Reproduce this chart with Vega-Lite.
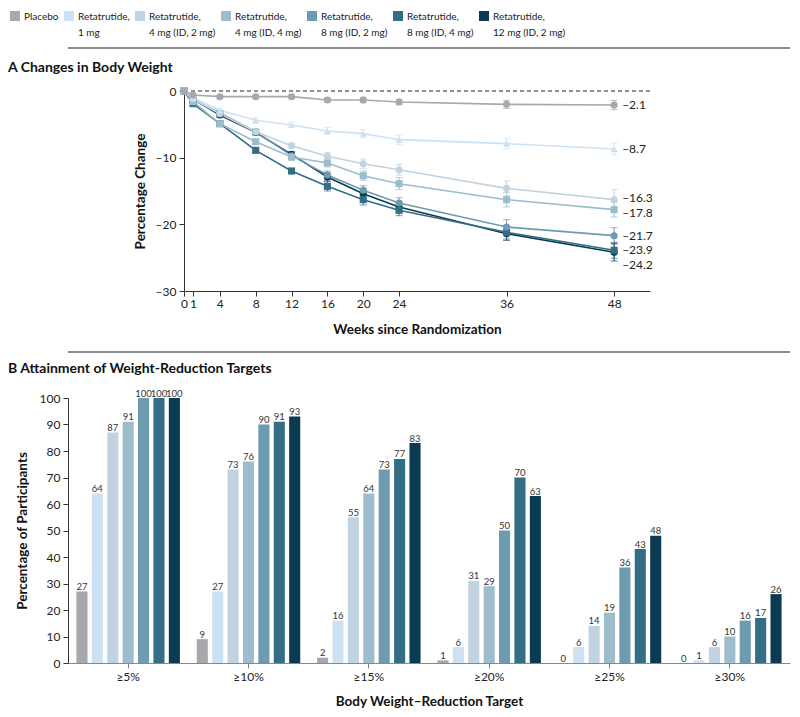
{
  "$schema": "https://vega.github.io/schema/vega-lite/v6.json",
  "padding": {"left": 8, "top": 11, "right": 4, "bottom": 2},
  "config": {
    "font": "Lato",
    "view": {"stroke": null},
    "axis": {"labelFontSize": 12, "labelColor": "#222", "titleFontSize": 13.5, "titleFontWeight": "bold", "titleColor": "#111", "domainColor": "#333", "tickColor": "#333", "grid": false},
    "title": {"fontSize": 14, "fontWeight": "bold", "color": "#111", "anchor": "start"}
  },
  "resolve": {"legend": {"color": "independent", "shape": "independent"}},
  "spacing": 12,
  "vconcat": [
    {
      "width": 722, "height": 2,
      "view": {"fill": "#8c8c8c", "stroke": null},
      "data": {"values": [{"g": "Placebo"}, {"g": "Retatrutide, 1 mg"}, {"g": "Retatrutide, 4 mg (ID, 2 mg)"}, {"g": "Retatrutide, 4 mg (ID, 4 mg)"}, {"g": "Retatrutide, 8 mg (ID, 2 mg)"}, {"g": "Retatrutide, 8 mg (ID, 4 mg)"}, {"g": "Retatrutide, 12 mg (ID, 2 mg)"}]},
      "mark": {"type": "point", "filled": true, "size": 0, "opacity": 1},
      "encoding": {
        "color": {"field": "g", "type": "nominal",
                  "scale": {"domain": ["Placebo", "Retatrutide, 1 mg", "Retatrutide, 4 mg (ID, 2 mg)", "Retatrutide, 4 mg (ID, 4 mg)", "Retatrutide, 8 mg (ID, 2 mg)", "Retatrutide, 8 mg (ID, 4 mg)", "Retatrutide, 12 mg (ID, 2 mg)"],
                            "range": ["#a6a8ab", "#cde1f3", "#c1d3e1", "#9dbccc", "#6e9bb0", "#336d86", "#0b3a53"]},
                  "legend": {"orient": "none", "legendX": -58, "legendY": -36, "direction": "horizontal", "columns": 7, "title": null,
                             "symbolType": "square", "symbolSize": 100, "symbolStrokeWidth": 0, "symbolOpacity": 1, "labelFontSize": 10, "labelColor": "#222",
                             "labelBaseline": "top", "labelOffset": 4, "columnPadding": 5, "padding": 0,
                             "labelExpr": "datum.label == 'Placebo' ? ['Placebo', ''] : ['Retatrutide,', slice(datum.label, 13)]",
                             "encode": {"labels": {"update": {"lineHeight": {"value": 16}, "dy": {"value": -4}}}}}}
      }
    },
    {
      "title": {"text": "A  Changes in Body Weight", "anchor": "start", "frame": "group", "dx": -60, "offset": 10},
      "spacing": 0,
      "hconcat": [
        {"width": 65, "height": 248, "data": {"values": []}, "mark": "point", "encoding": {}},
        {
          "width": 466, "height": 200,
          "layer": [
            {
              "data": {"values": [{}]},
              "mark": {"type": "rule", "strokeDash": [4, 3], "color": "#222", "strokeWidth": 1},
              "encoding": {"y": {"datum": 0, "type": "quantitative", "scale": {"domain": [-30, 0], "nice": false}, "title": "Percentage Change"}}
            },
            {
              "data": {"values": [
                {"g": "Retatrutide, 12 mg (ID, 2 mg)", "w": 0, "v": 0, "lo": 0, "hi": 0},
                {"g": "Retatrutide, 12 mg (ID, 2 mg)", "w": 1, "v": -1.2, "lo": -1.3, "hi": -1.1},
                {"g": "Retatrutide, 12 mg (ID, 2 mg)", "w": 4, "v": -3.6, "lo": -3.9, "hi": -3.3},
                {"g": "Retatrutide, 12 mg (ID, 2 mg)", "w": 8, "v": -6.2, "lo": -6.6, "hi": -5.8},
                {"g": "Retatrutide, 12 mg (ID, 2 mg)", "w": 12, "v": -9.5, "lo": -9.9, "hi": -9.1},
                {"g": "Retatrutide, 12 mg (ID, 2 mg)", "w": 16, "v": -12.9, "lo": -13.5, "hi": -12.3},
                {"g": "Retatrutide, 12 mg (ID, 2 mg)", "w": 20, "v": -15.4, "lo": -16.1, "hi": -14.7},
                {"g": "Retatrutide, 12 mg (ID, 2 mg)", "w": 24, "v": -17.4, "lo": -18.2, "hi": -16.6},
                {"g": "Retatrutide, 12 mg (ID, 2 mg)", "w": 36, "v": -21.4, "lo": -22.4, "hi": -20.4},
                {"g": "Retatrutide, 12 mg (ID, 2 mg)", "w": 48, "v": -24.2, "lo": -25.5, "hi": -22.9},
                {"g": "Retatrutide, 8 mg (ID, 4 mg)", "w": 0, "v": 0, "lo": 0, "hi": 0},
                {"g": "Retatrutide, 8 mg (ID, 4 mg)", "w": 1, "v": -1.9, "lo": -2.0, "hi": -1.8},
                {"g": "Retatrutide, 8 mg (ID, 4 mg)", "w": 4, "v": -4.9, "lo": -5.2, "hi": -4.6},
                {"g": "Retatrutide, 8 mg (ID, 4 mg)", "w": 8, "v": -8.9, "lo": -9.3, "hi": -8.5},
                {"g": "Retatrutide, 8 mg (ID, 4 mg)", "w": 12, "v": -12.0, "lo": -12.4, "hi": -11.6},
                {"g": "Retatrutide, 8 mg (ID, 4 mg)", "w": 16, "v": -14.3, "lo": -15.0, "hi": -13.6},
                {"g": "Retatrutide, 8 mg (ID, 4 mg)", "w": 20, "v": -16.3, "lo": -17.1, "hi": -15.5},
                {"g": "Retatrutide, 8 mg (ID, 4 mg)", "w": 24, "v": -17.9, "lo": -18.7, "hi": -17.1},
                {"g": "Retatrutide, 8 mg (ID, 4 mg)", "w": 36, "v": -21.2, "lo": -22.2, "hi": -20.2},
                {"g": "Retatrutide, 8 mg (ID, 4 mg)", "w": 48, "v": -23.9, "lo": -25.1, "hi": -22.7},
                {"g": "Retatrutide, 8 mg (ID, 2 mg)", "w": 0, "v": 0, "lo": 0, "hi": 0},
                {"g": "Retatrutide, 8 mg (ID, 2 mg)", "w": 1, "v": -1.3, "lo": -1.4, "hi": -1.2},
                {"g": "Retatrutide, 8 mg (ID, 2 mg)", "w": 4, "v": -3.3, "lo": -3.6, "hi": -3.0},
                {"g": "Retatrutide, 8 mg (ID, 2 mg)", "w": 8, "v": -6.1, "lo": -6.5, "hi": -5.7},
                {"g": "Retatrutide, 8 mg (ID, 2 mg)", "w": 12, "v": -9.7, "lo": -10.1, "hi": -9.3},
                {"g": "Retatrutide, 8 mg (ID, 2 mg)", "w": 16, "v": -12.6, "lo": -13.2, "hi": -12.0},
                {"g": "Retatrutide, 8 mg (ID, 2 mg)", "w": 20, "v": -14.9, "lo": -15.6, "hi": -14.2},
                {"g": "Retatrutide, 8 mg (ID, 2 mg)", "w": 24, "v": -16.8, "lo": -17.6, "hi": -16.0},
                {"g": "Retatrutide, 8 mg (ID, 2 mg)", "w": 36, "v": -20.4, "lo": -21.5, "hi": -19.3},
                {"g": "Retatrutide, 8 mg (ID, 2 mg)", "w": 48, "v": -21.7, "lo": -22.9, "hi": -20.5},
                {"g": "Retatrutide, 4 mg (ID, 4 mg)", "w": 0, "v": 0, "lo": 0, "hi": 0},
                {"g": "Retatrutide, 4 mg (ID, 4 mg)", "w": 1, "v": -1.6, "lo": -1.7, "hi": -1.5},
                {"g": "Retatrutide, 4 mg (ID, 4 mg)", "w": 4, "v": -4.9, "lo": -5.2, "hi": -4.6},
                {"g": "Retatrutide, 4 mg (ID, 4 mg)", "w": 8, "v": -7.6, "lo": -8.0, "hi": -7.2},
                {"g": "Retatrutide, 4 mg (ID, 4 mg)", "w": 12, "v": -9.9, "lo": -10.4, "hi": -9.4},
                {"g": "Retatrutide, 4 mg (ID, 4 mg)", "w": 16, "v": -10.8, "lo": -11.4, "hi": -10.2},
                {"g": "Retatrutide, 4 mg (ID, 4 mg)", "w": 20, "v": -12.7, "lo": -13.4, "hi": -12.0},
                {"g": "Retatrutide, 4 mg (ID, 4 mg)", "w": 24, "v": -13.9, "lo": -14.8, "hi": -13.0},
                {"g": "Retatrutide, 4 mg (ID, 4 mg)", "w": 36, "v": -16.3, "lo": -17.4, "hi": -15.2},
                {"g": "Retatrutide, 4 mg (ID, 4 mg)", "w": 48, "v": -17.8, "lo": -18.9, "hi": -16.7},
                {"g": "Retatrutide, 4 mg (ID, 2 mg)", "w": 0, "v": 0, "lo": 0, "hi": 0},
                {"g": "Retatrutide, 4 mg (ID, 2 mg)", "w": 1, "v": -1.2, "lo": -1.3, "hi": -1.1},
                {"g": "Retatrutide, 4 mg (ID, 2 mg)", "w": 4, "v": -3.4, "lo": -3.7, "hi": -3.1},
                {"g": "Retatrutide, 4 mg (ID, 2 mg)", "w": 8, "v": -6.1, "lo": -6.5, "hi": -5.7},
                {"g": "Retatrutide, 4 mg (ID, 2 mg)", "w": 12, "v": -8.2, "lo": -8.6, "hi": -7.8},
                {"g": "Retatrutide, 4 mg (ID, 2 mg)", "w": 16, "v": -9.8, "lo": -10.4, "hi": -9.2},
                {"g": "Retatrutide, 4 mg (ID, 2 mg)", "w": 20, "v": -10.9, "lo": -11.6, "hi": -10.2},
                {"g": "Retatrutide, 4 mg (ID, 2 mg)", "w": 24, "v": -11.8, "lo": -12.6, "hi": -11.0},
                {"g": "Retatrutide, 4 mg (ID, 2 mg)", "w": 36, "v": -14.6, "lo": -15.7, "hi": -13.5},
                {"g": "Retatrutide, 4 mg (ID, 2 mg)", "w": 48, "v": -16.3, "lo": -17.8, "hi": -14.8},
                {"g": "Retatrutide, 1 mg", "w": 0, "v": 0, "lo": 0, "hi": 0},
                {"g": "Retatrutide, 1 mg", "w": 1, "v": -1.0, "lo": -1.1, "hi": -0.9},
                {"g": "Retatrutide, 1 mg", "w": 4, "v": -2.9, "lo": -3.2, "hi": -2.6},
                {"g": "Retatrutide, 1 mg", "w": 8, "v": -4.4, "lo": -4.8, "hi": -4.0},
                {"g": "Retatrutide, 1 mg", "w": 12, "v": -5.1, "lo": -5.5, "hi": -4.7},
                {"g": "Retatrutide, 1 mg", "w": 16, "v": -6.0, "lo": -6.5, "hi": -5.5},
                {"g": "Retatrutide, 1 mg", "w": 20, "v": -6.4, "lo": -7.0, "hi": -5.8},
                {"g": "Retatrutide, 1 mg", "w": 24, "v": -7.3, "lo": -8.0, "hi": -6.6},
                {"g": "Retatrutide, 1 mg", "w": 36, "v": -7.9, "lo": -8.7, "hi": -7.1},
                {"g": "Retatrutide, 1 mg", "w": 48, "v": -8.7, "lo": -9.6, "hi": -7.8},
                {"g": "Placebo", "w": 0, "v": 0, "lo": 0, "hi": 0},
                {"g": "Placebo", "w": 1, "v": -0.6, "lo": -0.7, "hi": -0.5},
                {"g": "Placebo", "w": 4, "v": -0.85, "lo": -1.05, "hi": -0.65},
                {"g": "Placebo", "w": 8, "v": -0.85, "lo": -1.1, "hi": -0.6},
                {"g": "Placebo", "w": 12, "v": -0.85, "lo": -1.15, "hi": -0.55},
                {"g": "Placebo", "w": 16, "v": -1.35, "lo": -1.7, "hi": -1.0},
                {"g": "Placebo", "w": 20, "v": -1.35, "lo": -1.75, "hi": -0.95},
                {"g": "Placebo", "w": 24, "v": -1.65, "lo": -2.05, "hi": -1.25},
                {"g": "Placebo", "w": 36, "v": -2.0, "lo": -2.6, "hi": -1.4},
                {"g": "Placebo", "w": 48, "v": -2.1, "lo": -2.8, "hi": -1.4}
              ]},
              "encoding": {
                "x": {"field": "w", "type": "quantitative", "scale": {"domain": [0, 52], "nice": false}, "title": "Weeks since Randomization",
                      "axis": {"values": [0, 1, 4, 8, 12, 16, 20, 24, 36, 48], "labelAngle": 0, "tickSize": 5, "labelPadding": 2, "titlePadding": 13, "labelFlush": false, "labelOverlap": false}},
                "color": {"field": "g", "type": "nominal", "legend": null,
                          "scale": {"domain": ["Placebo", "Retatrutide, 1 mg", "Retatrutide, 4 mg (ID, 2 mg)", "Retatrutide, 4 mg (ID, 4 mg)", "Retatrutide, 8 mg (ID, 2 mg)", "Retatrutide, 8 mg (ID, 4 mg)", "Retatrutide, 12 mg (ID, 2 mg)"],
                                    "range": ["#a6a8ab", "#cde1f3", "#c1d3e1", "#9dbccc", "#6e9bb0", "#336d86", "#0b3a53"]}}
              },
              "layer": [
                {
                  "mark": {"type": "line", "strokeWidth": 1.6},
                  "encoding": {"y": {"field": "v", "type": "quantitative", "scale": {"domain": [-30, 0], "nice": false}, "title": "Percentage Change",
                                     "axis": {"values": [-30, -25, -20, -15, -10, -5, 0], "labelExpr": "datum.value < 0 ? '–' + abs(datum.value) : '0'", "tickSize": 5, "titlePadding": 8, "labelPadding": 3}}}
                },
                {
                  "mark": {"type": "rule", "strokeWidth": 1},
                  "encoding": {"y": {"field": "lo", "type": "quantitative", "title": "Percentage Change"}, "y2": {"field": "hi"}}
                },
                {
                  "mark": {"type": "tick", "orient": "horizontal", "size": 7, "thickness": 1},
                  "encoding": {"y": {"field": "lo", "type": "quantitative", "title": "Percentage Change"}}
                },
                {
                  "mark": {"type": "tick", "orient": "horizontal", "size": 7, "thickness": 1},
                  "encoding": {"y": {"field": "hi", "type": "quantitative", "title": "Percentage Change"}}
                },
                {
                  "mark": {"type": "point", "filled": true, "opacity": 1, "size": 50},
                  "encoding": {
                    "y": {"field": "v", "type": "quantitative", "title": "Percentage Change"},
                    "shape": {"field": "g", "type": "nominal", "legend": null,
                              "scale": {"domain": ["Placebo", "Retatrutide, 1 mg", "Retatrutide, 4 mg (ID, 2 mg)", "Retatrutide, 4 mg (ID, 4 mg)", "Retatrutide, 8 mg (ID, 2 mg)", "Retatrutide, 8 mg (ID, 4 mg)", "Retatrutide, 12 mg (ID, 2 mg)"],
                                        "range": ["circle", "triangle-up", "circle", "square", "circle", "square", "circle"]}}
                  }
                },
                {
                  "transform": [{"filter": "datum.w == 48 && (datum.g == 'Placebo' || datum.g == 'Retatrutide, 1 mg' || datum.g == 'Retatrutide, 8 mg (ID, 2 mg)' || datum.g == 'Retatrutide, 8 mg (ID, 4 mg)')"}, {"calculate": "'–' + format(abs(datum.v), '.1f')", "as": "lab"}],
                  "mark": {"type": "text", "align": "left", "dx": 8, "fontSize": 12, "color": "#222"},
                  "encoding": {"y": {"field": "v", "type": "quantitative", "title": "Percentage Change"}, "text": {"field": "lab"}, "color": {"value": "#222"}}
                },
                {
                  "transform": [{"filter": "datum.w == 48 && datum.g == 'Retatrutide, 4 mg (ID, 2 mg)'"}, {"calculate": "'–' + format(abs(datum.v), '.1f')", "as": "lab"}],
                  "mark": {"type": "text", "align": "left", "dx": 8, "dy": -2, "fontSize": 12, "color": "#222"},
                  "encoding": {"y": {"field": "v", "type": "quantitative", "title": "Percentage Change"}, "text": {"field": "lab"}, "color": {"value": "#222"}}
                },
                {
                  "transform": [{"filter": "datum.w == 48 && datum.g == 'Retatrutide, 4 mg (ID, 4 mg)'"}, {"calculate": "'–' + format(abs(datum.v), '.1f')", "as": "lab"}],
                  "mark": {"type": "text", "align": "left", "dx": 8, "dy": 3, "fontSize": 12, "color": "#222"},
                  "encoding": {"y": {"field": "v", "type": "quantitative", "title": "Percentage Change"}, "text": {"field": "lab"}, "color": {"value": "#222"}}
                },
                {
                  "transform": [{"filter": "datum.w == 48 && datum.g == 'Retatrutide, 12 mg (ID, 2 mg)'"}, {"calculate": "'–' + format(abs(datum.v), '.1f')", "as": "lab"}],
                  "mark": {"type": "text", "align": "left", "dx": 8, "dy": 13, "fontSize": 12, "color": "#222"},
                  "encoding": {"y": {"field": "v", "type": "quantitative", "title": "Percentage Change"}, "text": {"field": "lab"}, "color": {"value": "#222"}}
                }
              ]
            }
          ]
        }
      ]
    },
    {
      "width": 722, "height": 2,
      "view": {"fill": "#8c8c8c", "stroke": null},
      "title": {"text": "B  Attainment of Weight-Reduction Targets", "orient": "bottom", "anchor": "start", "frame": "group", "dx": -60, "offset": 9},
      "data": {"values": []},
      "mark": "point",
      "encoding": {}
    },
    {
      "width": 722, "height": 265,
      "data": {"values": [
        {"t": "≥5%", "g": "Placebo", "p": 27},
        {"t": "≥5%", "g": "Retatrutide, 1 mg", "p": 64},
        {"t": "≥5%", "g": "Retatrutide, 4 mg (ID, 2 mg)", "p": 87},
        {"t": "≥5%", "g": "Retatrutide, 4 mg (ID, 4 mg)", "p": 91},
        {"t": "≥5%", "g": "Retatrutide, 8 mg (ID, 2 mg)", "p": 100},
        {"t": "≥5%", "g": "Retatrutide, 8 mg (ID, 4 mg)", "p": 100},
        {"t": "≥5%", "g": "Retatrutide, 12 mg (ID, 2 mg)", "p": 100},
        {"t": "≥10%", "g": "Placebo", "p": 9},
        {"t": "≥10%", "g": "Retatrutide, 1 mg", "p": 27},
        {"t": "≥10%", "g": "Retatrutide, 4 mg (ID, 2 mg)", "p": 73},
        {"t": "≥10%", "g": "Retatrutide, 4 mg (ID, 4 mg)", "p": 76},
        {"t": "≥10%", "g": "Retatrutide, 8 mg (ID, 2 mg)", "p": 90},
        {"t": "≥10%", "g": "Retatrutide, 8 mg (ID, 4 mg)", "p": 91},
        {"t": "≥10%", "g": "Retatrutide, 12 mg (ID, 2 mg)", "p": 93},
        {"t": "≥15%", "g": "Placebo", "p": 2},
        {"t": "≥15%", "g": "Retatrutide, 1 mg", "p": 16},
        {"t": "≥15%", "g": "Retatrutide, 4 mg (ID, 2 mg)", "p": 55},
        {"t": "≥15%", "g": "Retatrutide, 4 mg (ID, 4 mg)", "p": 64},
        {"t": "≥15%", "g": "Retatrutide, 8 mg (ID, 2 mg)", "p": 73},
        {"t": "≥15%", "g": "Retatrutide, 8 mg (ID, 4 mg)", "p": 77},
        {"t": "≥15%", "g": "Retatrutide, 12 mg (ID, 2 mg)", "p": 83},
        {"t": "≥20%", "g": "Placebo", "p": 1},
        {"t": "≥20%", "g": "Retatrutide, 1 mg", "p": 6},
        {"t": "≥20%", "g": "Retatrutide, 4 mg (ID, 2 mg)", "p": 31},
        {"t": "≥20%", "g": "Retatrutide, 4 mg (ID, 4 mg)", "p": 29},
        {"t": "≥20%", "g": "Retatrutide, 8 mg (ID, 2 mg)", "p": 50},
        {"t": "≥20%", "g": "Retatrutide, 8 mg (ID, 4 mg)", "p": 70},
        {"t": "≥20%", "g": "Retatrutide, 12 mg (ID, 2 mg)", "p": 63},
        {"t": "≥25%", "g": "Placebo", "p": 0},
        {"t": "≥25%", "g": "Retatrutide, 1 mg", "p": 6},
        {"t": "≥25%", "g": "Retatrutide, 4 mg (ID, 2 mg)", "p": 14},
        {"t": "≥25%", "g": "Retatrutide, 4 mg (ID, 4 mg)", "p": 19},
        {"t": "≥25%", "g": "Retatrutide, 8 mg (ID, 2 mg)", "p": 36},
        {"t": "≥25%", "g": "Retatrutide, 8 mg (ID, 4 mg)", "p": 43},
        {"t": "≥25%", "g": "Retatrutide, 12 mg (ID, 2 mg)", "p": 48},
        {"t": "≥30%", "g": "Placebo", "p": 0},
        {"t": "≥30%", "g": "Retatrutide, 1 mg", "p": 1},
        {"t": "≥30%", "g": "Retatrutide, 4 mg (ID, 2 mg)", "p": 6},
        {"t": "≥30%", "g": "Retatrutide, 4 mg (ID, 4 mg)", "p": 10},
        {"t": "≥30%", "g": "Retatrutide, 8 mg (ID, 2 mg)", "p": 16},
        {"t": "≥30%", "g": "Retatrutide, 8 mg (ID, 4 mg)", "p": 17},
        {"t": "≥30%", "g": "Retatrutide, 12 mg (ID, 2 mg)", "p": 26}
      ]},
      "encoding": {
        "x": {"field": "t", "type": "nominal", "sort": ["≥5%", "≥10%", "≥15%", "≥20%", "≥25%", "≥30%"], "title": "Body  Weight–Reduction  Target",
              "scale": {"paddingInner": 0.14, "paddingOuter": 0.07},
              "axis": {"labelAngle": 0, "domainColor": "#888", "tickColor": "#888", "tickSize": 5, "labelPadding": 3, "titlePadding": 12}},
        "xOffset": {"field": "g", "type": "nominal", "sort": ["Placebo", "Retatrutide, 1 mg", "Retatrutide, 4 mg (ID, 2 mg)", "Retatrutide, 4 mg (ID, 4 mg)", "Retatrutide, 8 mg (ID, 2 mg)", "Retatrutide, 8 mg (ID, 4 mg)", "Retatrutide, 12 mg (ID, 2 mg)"],
                    "scale": {"paddingInner": 0.28, "paddingOuter": 0}},
        "y": {"field": "p", "type": "quantitative", "scale": {"domain": [0, 100], "nice": false}, "title": "Percentage of Participants",
              "axis": {"values": [0, 10, 20, 30, 40, 50, 60, 70, 80, 90, 100], "tickSize": 5, "titlePadding": 10, "labelPadding": 3}}
      },
      "layer": [
        {
          "mark": {"type": "bar"},
          "encoding": {
            "color": {"field": "g", "type": "nominal", "legend": null,
                      "scale": {"domain": ["Placebo", "Retatrutide, 1 mg", "Retatrutide, 4 mg (ID, 2 mg)", "Retatrutide, 4 mg (ID, 4 mg)", "Retatrutide, 8 mg (ID, 2 mg)", "Retatrutide, 8 mg (ID, 4 mg)", "Retatrutide, 12 mg (ID, 2 mg)"],
                                "range": ["#a6a8ab", "#cde1f3", "#c1d3e1", "#9dbccc", "#6e9bb0", "#336d86", "#0b3a53"]}}
          }
        },
        {
          "mark": {"type": "text", "baseline": "alphabetic", "dy": -1.5, "fontSize": 9.5, "color": "#333"},
          "encoding": {"text": {"field": "p"}}
        }
      ]
    }
  ]
}
